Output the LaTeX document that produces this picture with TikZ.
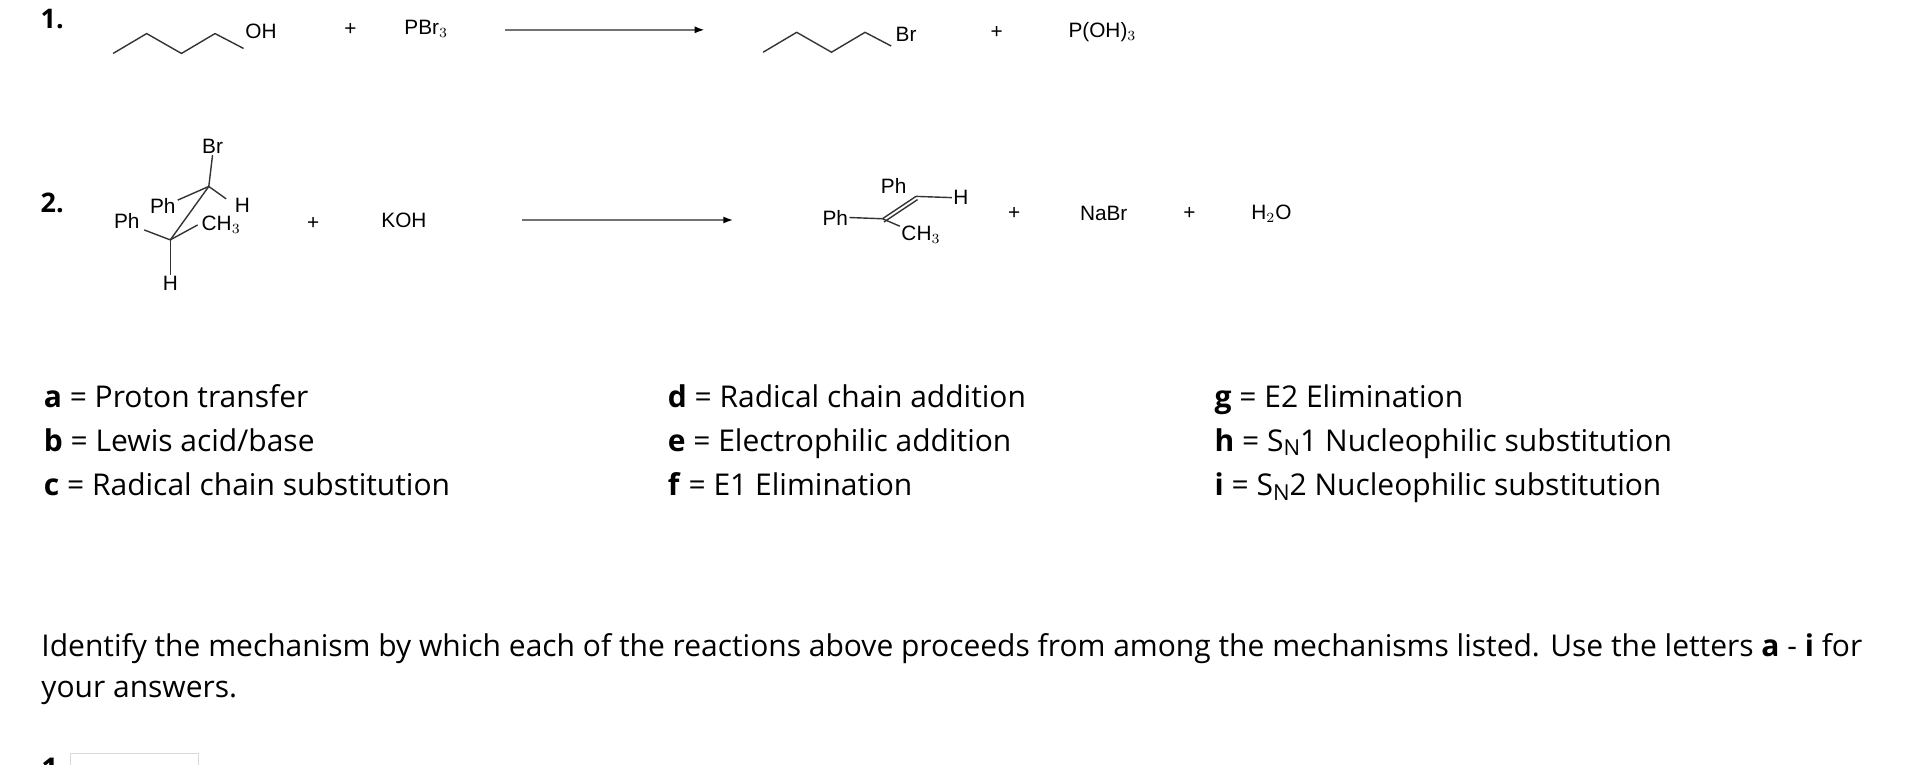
\documentclass[tikz,border=0pt]{standalone}
\usepackage{fontspec}
\usetikzlibrary{arrows.meta}
\setmainfont{Open Sans}
\newfontfamily\chemf{Liberation Sans}
\begin{document}
\begin{tikzpicture}[x=0.6215pt,y=-0.6215pt,
  chem/.style={font=\chemf\fontsize{10.4pt}{11pt}\selectfont,inner sep=0.5pt},
  num/.style={font=\fontsize{13.5pt}{14pt}\selectfont\bfseries,inner sep=0},
  txt/.style={font=\fontsize{15pt}{17pt}\selectfont,anchor=base west,inner sep=0},
  bond/.style={line width=0.7pt,black!80},
  rxn/.style={line width=0.9pt,black!55,-{Latex[length=5pt,width=3.5pt,black]}}]
\useasboundingbox (0,0) rectangle (1548,615);
% reaction 1
\node[num] (n1) at (42,15) {1.};
\coordinate (a1) at (91,43); \coordinate (a2) at (118,27); \coordinate (a3) at (146,43); \coordinate (a4) at (173,27); \coordinate (a5) at (196,39);
\draw[bond] (a1)--(a2)--(a3)--(a4)--(a5);
\node[chem] (oh) at (210,25) {OH};
\node[chem] (p1) at (282,24) {+};
\node[chem] (pbr) at (343,23) {PBr$_3$};
\coordinate (r1s) at (406,24); \coordinate (r1e) at (567,24);
\draw[rxn] (r1s)--(r1e);
\coordinate (b1) at (614,42); \coordinate (b2) at (641,26); \coordinate (b3) at (669,42); \coordinate (b4) at (696,26); \coordinate (b5) at (717,37);
\draw[bond] (b1)--(b2)--(b3)--(b4)--(b5);
\node[chem] (br1) at (729,28) {Br};
\node[chem] (p2) at (802,26) {+};
\node[chem] (poh) at (887,26) {P(OH)$_3$};
% reaction 2
\node[num] (n2) at (42,163) {2.};
\coordinate (c1) at (168,150); \coordinate (c2) at (137,193);
\node[chem] (br2) at (171,118) {Br};
\node[chem] (phu) at (131,166) {Ph};
\node[chem] (phl) at (102,178) {Ph};
\node[chem] (hr) at (195,165) {H};
\node[chem] (ch3) at (178,181) {CH$_3$};
\node[chem] (hb) at (137,228) {H};
\draw[bond] (br2.south)--(c1);
\draw[bond] (c1)--(c2);
\draw[bond] (c1)--(182,160);
\draw[bond] (143,161)--(c1);
\draw[bond] (116,185)--(c2);
\draw[bond] (c2)--(159,181);
\draw[bond] (c2)--(hb.north);
\node[chem] (p3) at (252,180) {+};
\node[chem] (koh) at (325,177) {KOH};
\coordinate (r2s) at (420,177); \coordinate (r2e) at (590,177);
\draw[rxn] (r2s)--(r2e);
\node[chem] (ph3) at (672,175) {Ph};
\node[chem] (ph4) at (719,150) {Ph};
\node[chem] (h2) at (773,159) {H};
\node[chem] (ch3b) at (741,189) {CH$_3$};
\coordinate (d1) at (710,176); \coordinate (d2) at (737,158);
\draw[bond] (ph3.east)--(d1);
\draw[bond] (d1)--(d2);
\draw[bond] ([shift={(1.2,2.6)}]d1)--([shift={(1.2,2.6)}]d2);
\draw[bond] (d2)--(h2.west);
\draw[bond] (d1)--(724,182);
\node[chem] (p4) at (816,172) {+};
\node[chem] (nabr) at (888,172) {NaBr};
\node[chem] (p5) at (957,172) {+};
\node[chem] (h2o) at (1023,172) {H$_2$O};
% mechanisms
\node[txt] (ma) at (35,328) {\textbf{a} = Proton transfer};
\node[txt] (mb) at (35,363) {\textbf{b} = Lewis acid/base};
\node[txt] (mc) at (35,399) {\textbf{c} = Radical chain substitution};
\node[txt] (md) at (537,328) {\textbf{d} = Radical chain addition};
\node[txt] (me) at (537,363) {\textbf{e} = Electrophilic addition};
\node[txt] (mf) at (537,399) {\textbf{f} = E1 Elimination};
\node[txt] (mg) at (977,328) {\textbf{g} = E2 Elimination};
\node[txt] (mh) at (977,363) {\textbf{h} = S\raisebox{-0.3ex}{\fontsize{11pt}{11pt}\selectfont N}1 Nucleophilic substitution};
\node[txt] (mi) at (977,399) {\textbf{i} = S\raisebox{-0.3ex}{\fontsize{11pt}{11pt}\selectfont N}2 Nucleophilic substitution};
\node[txt] (q1) at (33,528) {Identify the mechanism by which each of the reactions above proceeds from among the mechanisms listed. Use the letters \textbf{a} - \textbf{i} for};
\node[txt] (q2) at (33,561) {your answers.};
\node[txt] (ans) at (33,627) {\textbf{1}};
\draw[black!15,line width=0.6pt] (57,620)--(57,606)--(160,606)--(160,620);
\end{tikzpicture}
\end{document}
